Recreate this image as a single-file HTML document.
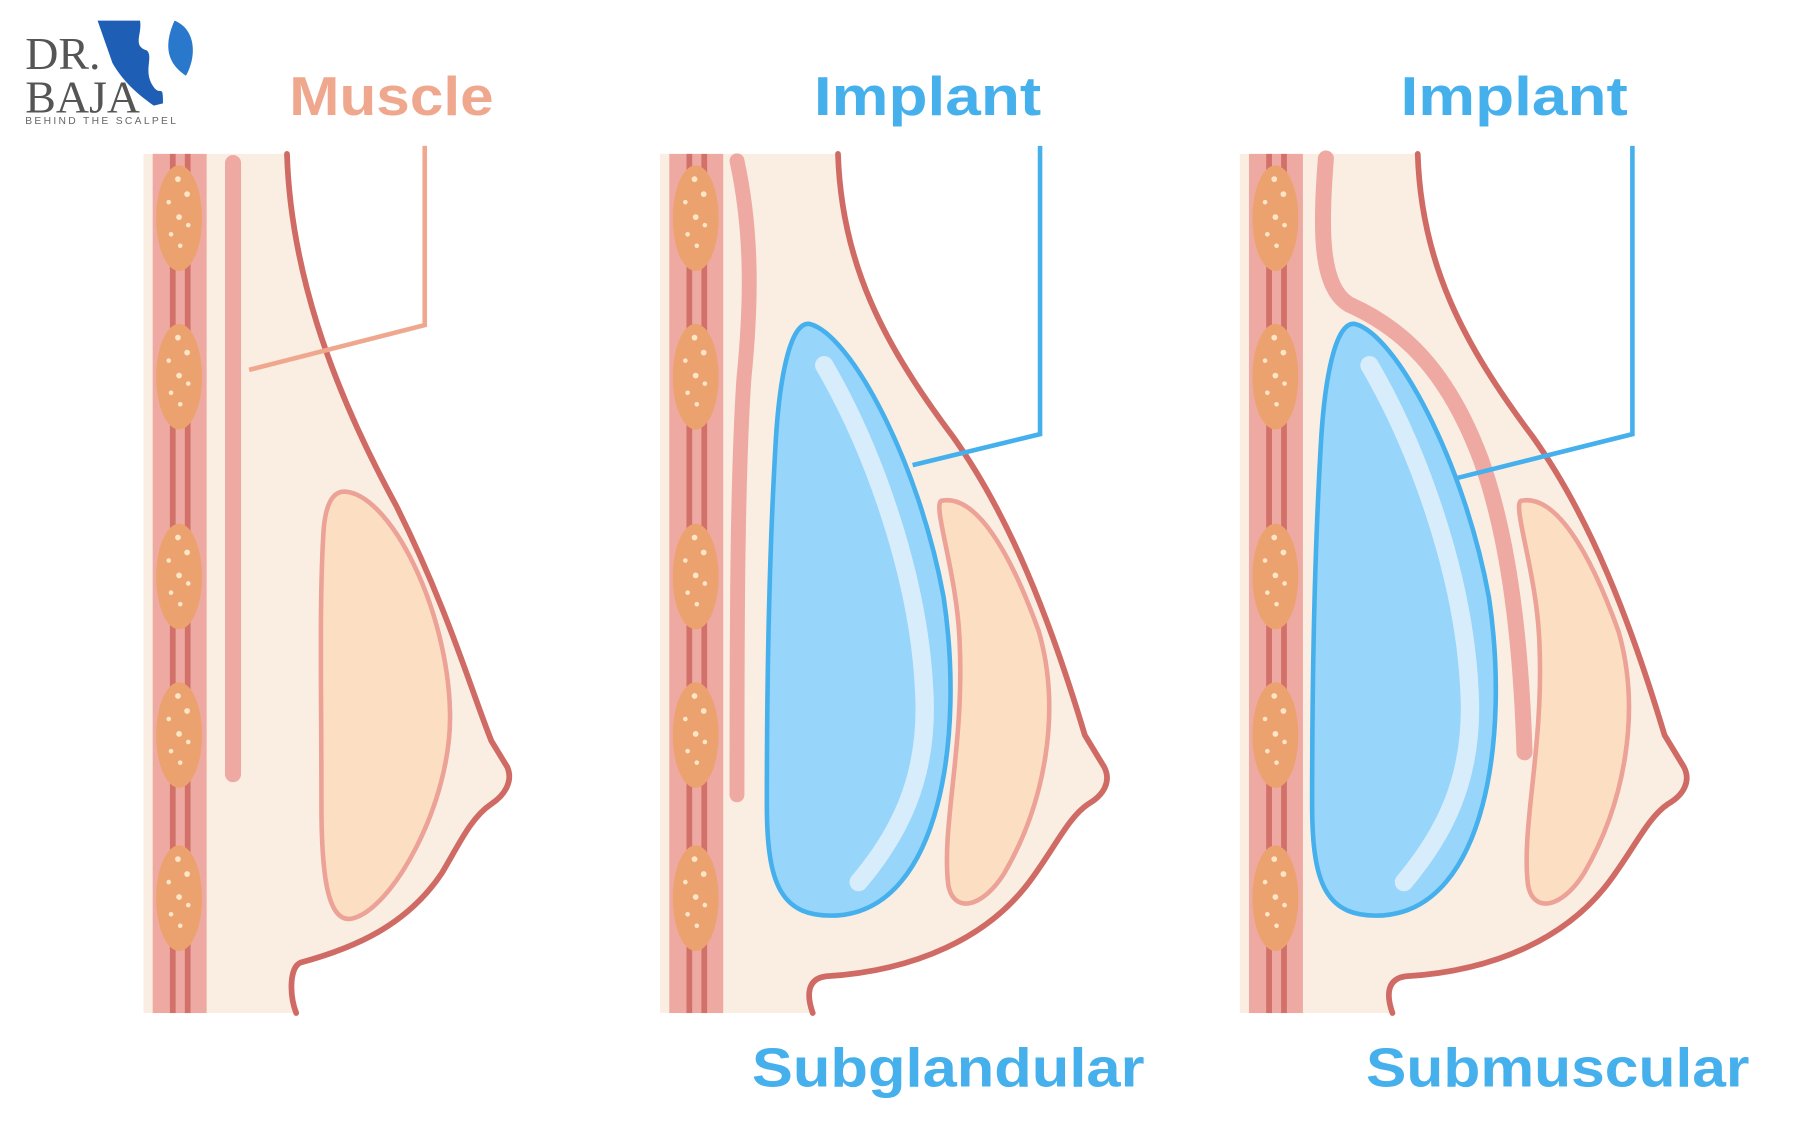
<!DOCTYPE html>
<html><head><meta charset="utf-8"><style>
html,body{margin:0;padding:0;background:#fff;}
svg{display:block;}
text{font-family:"Liberation Sans",sans-serif;font-weight:bold;}
</style></head><body>
<svg width="1800" height="1121" viewBox="0 0 1568 976" preserveAspectRatio="none" xmlns="http://www.w3.org/2000/svg">
<defs>
<g id="col">
  <rect x="0" y="0" width="47" height="748" fill="#eeaaa2"/>
  <rect x="15" y="0" width="5" height="748" fill="#d2706a"/>
  <rect x="28" y="0" width="5" height="748" fill="#d2706a"/>
  <g fill="#eca26e">
    <ellipse cx="23" cy="56" rx="20" ry="46"/>
    <ellipse cx="23" cy="194" rx="20" ry="46"/>
    <ellipse cx="23" cy="368" rx="20" ry="46"/>
    <ellipse cx="23" cy="506" rx="20" ry="46"/>
    <ellipse cx="23" cy="648" rx="20" ry="46"/>
  </g>
  <g fill="#fbe6c8">
    <circle cx="22" cy="22" r="2.5"/><circle cx="30" cy="35" r="2.5"/><circle cx="14" cy="42" r="2"/><circle cx="23" cy="55" r="2.5"/><circle cx="31" cy="62" r="2"/><circle cx="16" cy="70" r="2"/><circle cx="24" cy="80" r="2"/>
    <circle cx="22" cy="160" r="2.5"/><circle cx="30" cy="173" r="2.5"/><circle cx="14" cy="180" r="2"/><circle cx="23" cy="193" r="2.5"/><circle cx="31" cy="200" r="2"/><circle cx="16" cy="208" r="2"/><circle cx="24" cy="218" r="2"/>
    <circle cx="22" cy="334" r="2.5"/><circle cx="30" cy="347" r="2.5"/><circle cx="14" cy="354" r="2"/><circle cx="23" cy="367" r="2.5"/><circle cx="31" cy="374" r="2"/><circle cx="16" cy="382" r="2"/><circle cx="24" cy="392" r="2"/>
    <circle cx="22" cy="472" r="2.5"/><circle cx="30" cy="485" r="2.5"/><circle cx="14" cy="492" r="2"/><circle cx="23" cy="505" r="2.5"/><circle cx="31" cy="512" r="2"/><circle cx="16" cy="520" r="2"/><circle cx="24" cy="530" r="2"/>
    <circle cx="22" cy="614" r="2.5"/><circle cx="30" cy="627" r="2.5"/><circle cx="14" cy="634" r="2"/><circle cx="23" cy="647" r="2.5"/><circle cx="31" cy="654" r="2"/><circle cx="16" cy="662" r="2"/><circle cx="24" cy="672" r="2"/>
  </g>
</g>
<g id="skin2">
  <path d="M575 134 L730 134 C733 230 770 300 830 380 C880 450 915 540 945 640 L962 668 C968 680 962 692 948 700 C930 712 918 740 895 770 C860 815 800 845 720 850 C702 852 703 868 708 882 L575 882 Z" fill="#faeee3"/>
  <path d="M730 134 C733 230 770 300 830 380 C880 450 915 540 945 640 L962 668 C968 680 962 692 948 700 C930 712 918 740 895 770 C860 815 800 845 720 850 C702 852 703 868 708 882" fill="none" stroke="#cf6b64" stroke-width="5" stroke-linecap="round"/>
  <path d="M820 436 C850 430 880 480 905 550 C925 620 910 700 875 760 C855 792 830 795 826 770 C820 720 840 650 836 560 C834 500 812 440 820 436 Z" fill="#fcdfc2" stroke="#eca296" stroke-width="4"/>
</g>
<g id="imp">
  <path d="M705 282 C740 290 800 400 822 520 C840 640 820 790 730 797 C680 800 668 770 668 700 C668 600 670 480 676 380 C680 320 690 280 705 282 Z" fill="#97d5fb" stroke="#45b0ec" stroke-width="4"/>
  <path d="M718 318 C760 390 800 500 805 600 C810 680 780 730 748 768" fill="none" stroke="#d8edfb" stroke-width="16" stroke-linecap="round"/>
</g>
</defs>

<!-- Panel 1 -->
<path d="M125 134 L250 134 C253 230 285 330 345 440 C390 530 410 600 428 645 L442 668 C447 680 440 692 428 700 C410 712 400 735 385 760 C355 805 310 825 262 838 C252 842 252 866 258 882 L125 882 Z" fill="#faeee3"/>
<g transform="translate(133,134)"><use href="#col"/></g>
<path d="M203 142 L203 674" stroke="#eeaaa2" stroke-width="14" stroke-linecap="round"/>
<path d="M250 134 C253 230 285 330 345 440 C390 530 410 600 428 645 L442 668 C447 680 440 692 428 700 C410 712 400 735 385 760 C355 805 310 825 262 838 C252 842 252 866 258 882" fill="none" stroke="#cf6b64" stroke-width="5" stroke-linecap="round"/>
<path d="M300 428 C340 430 390 530 392 620 C394 700 340 795 305 800 C285 802 280 760 280 700 C280 600 278 520 282 460 C284 438 290 428 300 428 Z" fill="#fcdfc2" stroke="#eca296" stroke-width="4"/>
<path d="M370 127 L370 283 L217 322" fill="none" stroke="#efa88e" stroke-width="4"/>

<!-- Panel 2 -->
<use href="#skin2"/>
<use href="#imp"/>
<g transform="translate(583,134)"><use href="#col"/></g>
<path d="M642 140 C655 200 655 260 648 330 C642 420 642 560 642 692" fill="none" stroke="#eeaaa2" stroke-width="13" stroke-linecap="round"/>
<path d="M906 127 L906 378 L795 405" fill="none" stroke="#45b0ec" stroke-width="4"/>

<!-- Panel 3 -->
<g transform="translate(505,0)"><use href="#skin2"/></g>
<g transform="translate(475,0)"><use href="#imp"/></g>
<g transform="translate(1088,134)"><use href="#col"/></g>
<path d="M1155 138 C1150 200 1150 250 1175 265 C1220 285 1260 320 1290 400 C1315 470 1325 560 1328 655" fill="none" stroke="#eeaaa2" stroke-width="14" stroke-linecap="round"/>
<path d="M1422 127 L1422 378 L1270 416" fill="none" stroke="#45b0ec" stroke-width="4"/>

<!-- Labels -->
<text x="252" y="100" font-size="48" fill="#efa88e" textLength="178" lengthAdjust="spacingAndGlyphs">Muscle</text>
<text x="709" y="100" font-size="48" fill="#45b0ec" textLength="198" lengthAdjust="spacingAndGlyphs">Implant</text>
<text x="1220" y="100" font-size="48" fill="#45b0ec" textLength="198" lengthAdjust="spacingAndGlyphs">Implant</text>
<text x="655" y="946" font-size="48" fill="#45b0ec" textLength="342" lengthAdjust="spacingAndGlyphs">Subglandular</text>
<text x="1190" y="946" font-size="48" fill="#45b0ec" textLength="334" lengthAdjust="spacingAndGlyphs">Submuscular</text>

<!-- Logo -->
<path d="M85 18 L122 18 C124 30 115 40 128 44 C134 50 124 62 134 76 C140 84 142 72 142 90 L134 92 C120 82 108 72 98 55 Z" fill="#1e5fb5"/>
<path d="M152 18 C170 25 172 48 162 66 C150 58 140 45 152 18 Z" fill="#2a78cc"/>
<text x="22" y="60" font-size="40" fill="#555" style="font-family:'Liberation Serif',serif;font-weight:normal">DR.</text>
<text x="22" y="98" font-size="40" fill="#555" style="font-family:'Liberation Serif',serif;font-weight:normal">BAJA</text>
<text x="22" y="108" font-size="9" fill="#666" style="font-weight:normal;letter-spacing:2px">BEHIND THE SCALPEL</text>
</svg>
</body></html>
